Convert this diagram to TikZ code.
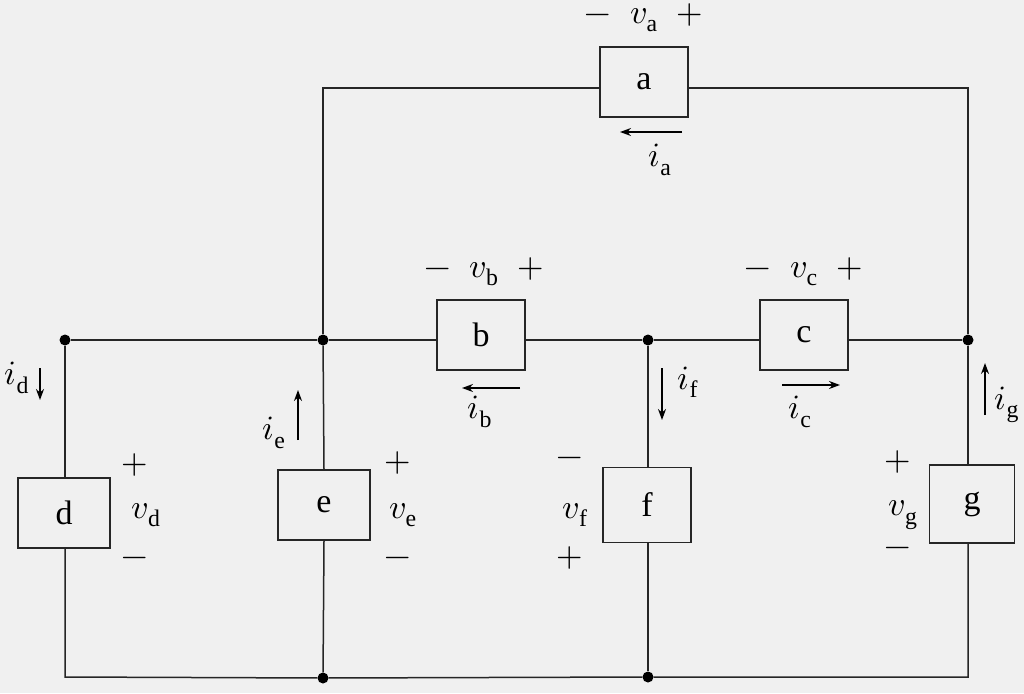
\documentclass[tikz,border=0pt]{standalone}
\usetikzlibrary{arrows.meta}
\usepackage{fontspec}
\setmainfont{Liberation Serif}
\usepackage{unicode-math}
\setmathfont{Latin Modern Math}
\begin{document}
\begin{tikzpicture}[x=1pt,y=-1pt,
  wire/.style={line width=1.5pt,black!85},
  elem/.style={draw=black!85,line width=1.5pt,fill=gray!12,minimum width=88pt,minimum height=70pt,font=\fontsize{34}{34}\selectfont,inner sep=0},
  dot/.style={circle,fill=black,inner sep=0,minimum size=11pt},
  lab/.style={font=\fontsize{34}{34}\selectfont,inner sep=0},
  cur/.style={line width=1.6pt,-{Stealth[length=11pt,width=8pt]}}]
\fill[gray!12] (0,0) rectangle (1024,693);
\useasboundingbox (0,0) rectangle (1024,693);
% nodes
\node[dot] (n1) at (65,340) {};
\node[dot] (n2) at (323,340) {};
\node[dot] (n3) at (648,340) {};
\node[dot] (n4) at (968,340) {};
\node[dot] (b2) at (323,678) {};
\node[dot] (b3) at (648,677) {};
\coordinate (t2) at (323,88);
\coordinate (t4) at (968,88);
\coordinate (b1) at (65,677);
\coordinate (b4) at (968,677);
\node[elem] (a) at (644,82) {a};
\node[elem] (b) at (481,335) {b};
\node[elem] (c) at (804,335) {c};
\node[elem,minimum width=92pt] (d) at (64,513) {d};
\node[elem,minimum width=92pt] (e) at (324,505) {e};
\node[elem,minimum height=75pt] (f) at (647,505) {f};
\node[elem,minimum width=85pt,minimum height=78pt] (g) at (972,504) {g};
% wires
\draw[wire] (n2) -- (t2) -- (a.west |- t2);
\draw[wire] (a.east |- t4) -- (t4) -- (n4);
\draw[wire] (n1) -- (n2) -- (b.west |- n2);
\draw[wire] (b.east |- n3) -- (n3) -- (c.west |- n3);
\draw[wire] (c.east |- n4) -- (n4);
\draw[wire] (n1) -- (n1 |- d.north);
\draw[wire] (n1 |- d.south) -- (b1) -- (b2) -- (b3) -- (b4) -- (b4 |- g.south);
\draw[wire] (n4) -- (n4 |- g.north);
\draw[wire] (n2) -- (e.north);
\draw[wire] (e.south) -- (b2);
\draw[wire] (n3) -- (n3 |- f.north);
\draw[wire] (n3 |- f.south) -- (b3);
% labels
\node[lab] at (644,18) {$-\;\;v_{\mathrm{a}}\;\;+$};
\node[lab] at (484,272) {$-\;\;v_{\mathrm{b}}\;\;+$};
\node[lab] at (804,272) {$-\;\;v_{\mathrm{c}}\;\;+$};
\coordinate (ia1) at (682,132); \coordinate (ia2) at (620,132);
\draw[cur] (ia1) -- (ia2); \node[lab] at (660,160) {$i_{\mathrm{a}}$};
\coordinate (ib1) at (520,388); \coordinate (ib2) at (462,388);
\draw[cur] (ib1) -- (ib2); \node[lab] at (480,412) {$i_{\mathrm{b}}$};
\coordinate (ic1) at (782,385); \coordinate (ic2) at (840,385);
\draw[cur] (ic1) -- (ic2); \node[lab] at (800,412) {$i_{\mathrm{c}}$};
\coordinate (id1) at (40,368); \coordinate (id2) at (40,400);
\draw[cur] (id1) -- (id2); \node[lab] at (17,378) {$i_{\mathrm{d}}$};
\coordinate (ie1) at (298,440); \coordinate (ie2) at (298,390);
\draw[cur] (ie1) -- (ie2); \node[lab] at (274,433) {$i_{\mathrm{e}}$};
\coordinate (if1) at (662,368); \coordinate (if2) at (662,420);
\draw[cur] (if1) -- (if2); \node[lab] at (688,382) {$i_{\mathrm{f}}$};
\coordinate (ig1) at (985,415); \coordinate (ig2) at (985,363);
\draw[cur] (ig1) -- (ig2); \node[lab] at (1007,405) {$i_{\mathrm{g}}$};
\node[lab] at (135,465) {$+$}; \node[lab] at (146,515) {$v_{\mathrm{d}}$}; \node[lab] at (135,562) {$-$};
\node[lab] at (398,463) {$+$}; \node[lab] at (403,515) {$v_{\mathrm{e}}$}; \node[lab] at (398,562) {$-$};
\node[lab] at (570,462) {$-$}; \node[lab] at (575,515) {$v_{\mathrm{f}}$}; \node[lab] at (570,558) {$+$};
\node[lab] at (898,462) {$+$}; \node[lab] at (903,515) {$v_{\mathrm{g}}$}; \node[lab] at (898,552) {$-$};
\end{tikzpicture}
\end{document}
